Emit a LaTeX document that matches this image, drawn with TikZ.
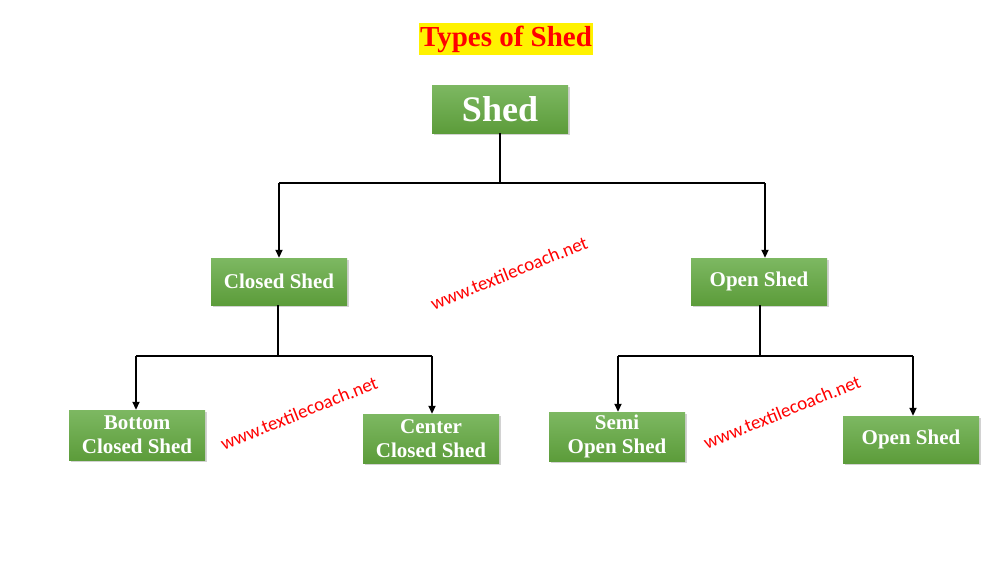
\documentclass[tikz,border=0pt]{standalone}
\usepackage{fontspec}
\setmainfont{Liberation Serif}
\newfontfamily\wmfont{Carlito}
\usetikzlibrary{shadows,arrows.meta}
\definecolor{gtop}{HTML}{7DB862}
\definecolor{gbot}{HTML}{5C9C3A}
\definecolor{wmred}{HTML}{FF0000}
\begin{document}
\begin{tikzpicture}[x=1pt,y=-1pt,
  gbox/.style={rectangle, top color=gtop, bottom color=gbot, draw=none,
    minimum width=136pt, minimum height=48pt, inner sep=0pt, align=center,
    text=white, font=\bfseries\fontsize{21}{24}\selectfont,
    drop shadow={shadow xshift=2pt, shadow yshift=-2pt, opacity=0.35}},
  conn/.style={line width=1.8pt, draw=black},
  arr/.style={conn, -{Triangle[length=8pt,width=7pt]}},
  wm/.style={text=wmred, font=\wmfont\fontsize{19}{20}\selectfont, rotate=22, inner sep=0pt}]
\useasboundingbox (0,0) rectangle (1000,562);
\fill[white] (0,0) rectangle (1000,562);
% title
\node[fill=yellow, text=red, font=\bfseries\fontsize{29}{30}\selectfont,
  minimum width=174pt, minimum height=32pt, inner sep=0pt] (title) at (506,39) {Types of Shed};
% boxes
\node[gbox, minimum height=48pt, font=\bfseries\fontsize{36}{38}\selectfont] (shed) at (500,109) {Shed};
\node[gbox, minimum height=47pt] (closed) at (279,281.5) {Closed Shed};
\node[gbox, minimum height=47pt] (open) at (759,281.5) {Open Shed};
\node[gbox, minimum height=50pt] (bcs) at (137,435) {Bottom\\Closed Shed};
\node[gbox, minimum height=49pt] (ccs) at (431,438.5) {Center\\Closed Shed};
\node[gbox, minimum height=49pt] (sos) at (617,436.5) {Semi\\Open Shed};
\node[gbox, minimum height=47pt] (os) at (911,439.5) {Open Shed};
% junction coordinates
\coordinate (j1) at (500,183);
\coordinate (j1l) at (279,183);
\coordinate (j1r) at (765,183);
\coordinate (j2) at (278,356);
\coordinate (j2l) at (136,356);
\coordinate (j2r) at (432,356);
\coordinate (j3) at (760,356);
\coordinate (j3l) at (618,356);
\coordinate (j3r) at (913,356);
% connectors
\draw[conn] (shed.south) -- (j1);
\draw[conn] (j1l) -- (j1r);
\draw[arr] (j1l) -- (closed.north);
\draw[arr] (j1r) -- (j1r |- open.north);
\draw[conn] (j2 |- closed.south) -- (j2);
\draw[conn] (j2l) -- (j2r);
\draw[arr] (j2l) -- (j2l |- bcs.north);
\draw[arr] (j2r) -- (j2r |- ccs.north);
\draw[conn] (j3 |- open.south) -- (j3);
\draw[conn] (j3l) -- (j3r);
\draw[arr] (j3l) -- (j3l |- sos.north);
\draw[arr] (j3r) -- (j3r |- os.north);
% watermarks
\node[wm] (wm1) at (509,273) {www.textilecoach.net};
\node[wm] (wm2) at (299,413) {www.textilecoach.net};
\node[wm] (wm3) at (782,412) {www.textilecoach.net};
\end{tikzpicture}
\end{document}
